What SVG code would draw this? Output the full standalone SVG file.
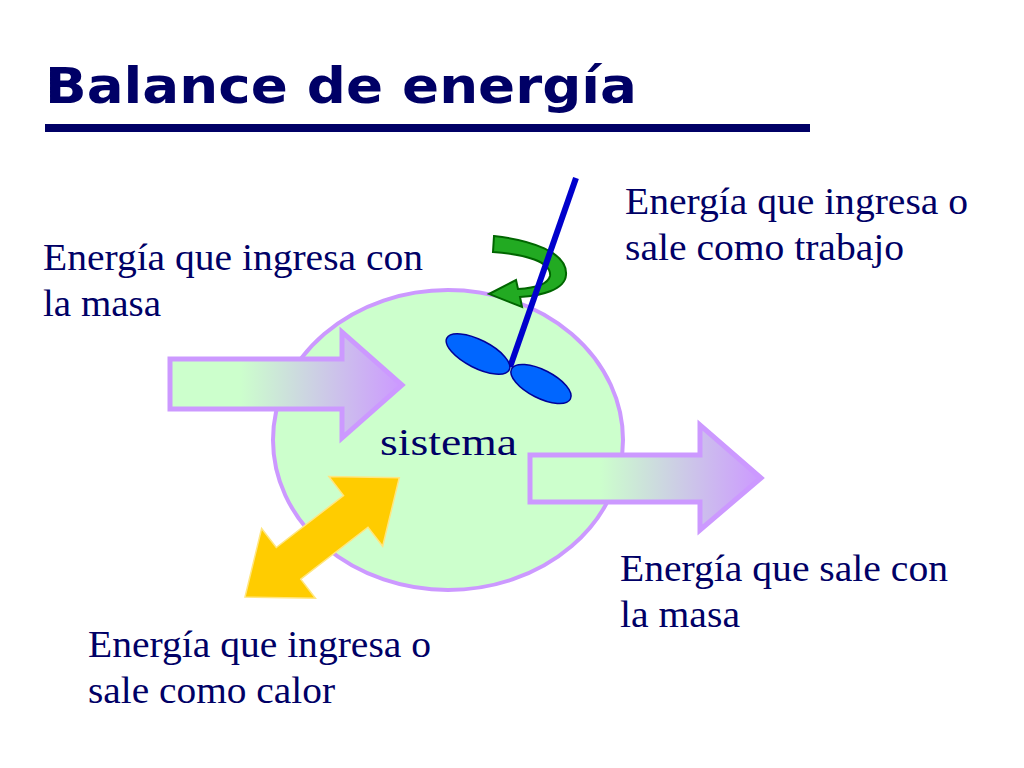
<svg xmlns="http://www.w3.org/2000/svg" width="1024" height="768" viewBox="0 0 1024 768">
<defs>
<linearGradient id="g" x1="0" x2="1" y1="0" y2="0"><stop offset="0.3" stop-color="#ccffcc"/><stop offset="1" stop-color="#cc99ff"/></linearGradient>
<style>
.t{font-family:"Liberation Serif",serif;font-size:37px;fill:#000066}
.ar{fill:url(#g);stroke:#cc99ff;stroke-width:5}
</style>
</defs>
<rect width="1024" height="768" fill="#fff"/>
<g id="title">
<text x="45" y="103" font-family="DejaVu Sans,Verdana,sans-serif" font-weight="bold" font-size="50" fill="#000066" textLength="592" lengthAdjust="spacingAndGlyphs">Balance de energía</text>
<rect x="45" y="124" width="765" height="8" fill="#000066"/>
</g>
<g id="sistema">
<ellipse cx="448" cy="440" rx="175" ry="150" fill="#ccffcc" stroke="#cc99ff" stroke-width="4"/>
<text class="t" x="380" y="455" textLength="137" lengthAdjust="spacingAndGlyphs">sistema</text>
</g>
<g id="connectors">
<polygon class="ar" points="170,359 342,359 342,332 402,385 342,438 342,409 170,409"/>
<polygon class="ar" points="530,455 700,455 700,425 761,478 700,530 700,502 530,502"/>
<g transform="translate(245,597) rotate(-37.7)">
<polygon points="0,0 55,-44 55,-20 140,-20 140,-44 195,0 140,44 140,20 55,20 55,44" fill="#ffcc00" stroke="#ffe680" stroke-width="1.5"/>
</g>
<path d="M494,236 C530,240 568,252 566,275 C565,290 540,296 520,297 L522,307 L489,294 L516,280 L518,289 C535,288 548,284 550,276 C552,262 525,254 493,252 Z" fill="#22aa22" stroke="#006600" stroke-width="2"/>
</g>
<g id="agitador">
<line x1="576" y1="178" x2="510" y2="367" stroke="#0000cc" stroke-width="6"/>
<ellipse cx="478" cy="354" rx="35" ry="14" transform="rotate(27 478 354)" fill="#0066ff" stroke="#000099" stroke-width="1.5"/>
<ellipse cx="541" cy="384" rx="33" ry="14" transform="rotate(27 541 384)" fill="#0066ff" stroke="#000099" stroke-width="1.5"/>
</g>
<g id="labels">
<text class="t" x="43" y="270" textLength="380" lengthAdjust="spacingAndGlyphs">Energía que ingresa con</text>
<text class="t" x="43" y="316" textLength="118" lengthAdjust="spacingAndGlyphs">la masa</text>
<text class="t" x="625" y="214" textLength="343" lengthAdjust="spacingAndGlyphs">Energía que ingresa o</text>
<text class="t" x="625" y="260" textLength="279" lengthAdjust="spacingAndGlyphs">sale como trabajo</text>
<text class="t" x="620" y="581" textLength="328" lengthAdjust="spacingAndGlyphs">Energía que sale con</text>
<text class="t" x="620" y="627" textLength="120" lengthAdjust="spacingAndGlyphs">la masa</text>
<text class="t" x="88" y="657" textLength="343" lengthAdjust="spacingAndGlyphs">Energía que ingresa o</text>
<text class="t" x="88" y="703" textLength="247" lengthAdjust="spacingAndGlyphs">sale como calor</text>
</g>
</svg>
